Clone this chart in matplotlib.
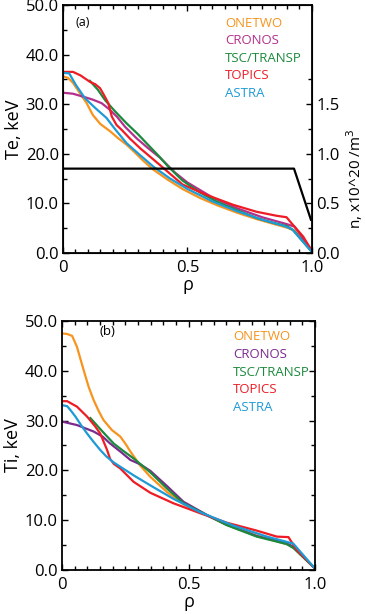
import numpy as np
import matplotlib
matplotlib.use("Agg")
import matplotlib.pyplot as plt
from matplotlib.ticker import MultipleLocator, FixedLocator

plt.rcParams["font.family"] = ["Open Sans", "DejaVu Sans"]

# ---------------- data (a): electron temperature ----------------
rho_a_onetwo = [0, 0.02, 0.04, 0.06, 0.08, 0.095, 0.12, 0.15, 0.19, 0.22, 0.256, 0.29, 0.32, 0.36, 0.42, 0.48, 0.55, 0.62, 0.70, 0.78, 0.85, 0.90, 0.93, 1.0]
te_onetwo = [35.6, 35.3, 34.3, 32.8, 31.3, 30.2, 27.8, 26.0, 24.5, 23.2, 21.8, 20.2, 18.7, 16.9, 14.8, 12.9, 11.1, 9.6, 8.1, 6.8, 5.8, 5.1, 4.5, 0.3]

rho_a_cronos = [0, 0.04, 0.088, 0.12, 0.155, 0.185, 0.216, 0.25, 0.296, 0.34, 0.39, 0.45, 0.5, 0.6, 0.7, 0.8, 0.9, 0.93, 1.0]
te_cronos = [32.3, 32.1, 31.4, 30.9, 30.2, 29.0, 27.5, 25.4, 23.1, 21.2, 19.2, 16.2, 14.2, 11.2, 9.0, 7.2, 5.8, 5.3, 0.5]

rho_a_tsc = [0.108, 0.14, 0.169, 0.21, 0.256, 0.30, 0.336, 0.38, 0.423, 0.48, 0.55, 0.62, 0.70, 0.78, 0.85, 0.90, 0.925, 1.0]
te_tsc = [34.7, 32.9, 30.8, 28.5, 26.1, 24.0, 22.1, 19.8, 17.4, 14.6, 12.2, 10.3, 8.6, 7.0, 6.0, 5.4, 4.6, 0.2]

rho_a_topics = [0, 0.04, 0.07, 0.108, 0.13, 0.149, 0.165, 0.182, 0.196, 0.215, 0.236, 0.27, 0.31, 0.35, 0.39, 0.48, 0.577, 0.684, 0.778, 0.858, 0.898, 0.918, 0.965, 1.0]
te_topics = [36.5, 36.5, 35.8, 34.5, 34.0, 33.2, 31.8, 30.2, 27.5, 25.8, 24.8, 23.0, 21.1, 19.4, 17.7, 13.8, 11.7, 9.7, 8.3, 7.5, 7.2, 6.0, 3.3, 0.4]

rho_a_astra = [0, 0.025, 0.05, 0.088, 0.13, 0.175, 0.21, 0.256, 0.31, 0.363, 0.43, 0.5, 0.6, 0.7, 0.8, 0.885, 0.92, 1.0]
te_astra = [36.3, 36.2, 34.0, 31.2, 29.2, 27.2, 24.9, 22.1, 19.7, 17.4, 15.0, 12.9, 10.4, 8.4, 6.7, 5.5, 4.8, 0.2]

rho_density = [0, 0.928, 0.996]
density = [0.85, 0.85, 0.335]

# ---------------- data (b): ion temperature ----------------
rho_b_onetwo = [0, 0.02, 0.04, 0.059, 0.085, 0.105, 0.125, 0.145, 0.164, 0.197, 0.23, 0.25, 0.27, 0.31, 0.349, 0.414, 0.48, 0.585, 0.65, 0.77, 0.888, 0.915, 1.0]
ti_onetwo = [47.5, 47.4, 47.0, 44.8, 40.2, 36.8, 34.1, 31.9, 30.1, 28.1, 26.8, 25.4, 23.8, 20.9, 18.7, 15.7, 13.2, 10.7, 9.2, 6.9, 5.2, 4.5, 0.3]

rho_b_cronos = [0, 0.059, 0.125, 0.16, 0.19, 0.23, 0.27, 0.31, 0.349, 0.414, 0.48, 0.585, 0.65, 0.77, 0.888, 0.915, 1.0]
ti_cronos = [29.8, 29.1, 27.8, 26.8, 25.4, 23.8, 22.1, 21.2, 19.9, 16.9, 13.7, 10.7, 9.1, 6.8, 5.4, 4.6, 0.3]

rho_b_tsc = [0.112, 0.16, 0.204, 0.245, 0.283, 0.349, 0.414, 0.48, 0.585, 0.651, 0.77, 0.888, 0.915, 1.0]
ti_tsc = [30.5, 27.8, 25.4, 23.8, 22.4, 19.6, 16.4, 13.4, 10.7, 9.0, 6.7, 5.2, 4.4, 0.3]

rho_b_topics = [0, 0.02, 0.059, 0.099, 0.13, 0.151, 0.165, 0.178, 0.19, 0.205, 0.23, 0.283, 0.349, 0.44, 0.546, 0.651, 0.77, 0.849, 0.895, 0.928, 1.0]
ti_topics = [33.9, 33.9, 32.8, 30.8, 28.9, 27.4, 25.7, 24.1, 22.3, 21.3, 20.4, 17.7, 15.5, 13.4, 11.4, 9.5, 7.9, 6.7, 6.6, 4.0, 0.3]

rho_b_astra = [0, 0.02, 0.035, 0.053, 0.075, 0.099, 0.125, 0.151, 0.175, 0.204, 0.283, 0.362, 0.44, 0.546, 0.678, 0.81, 0.914, 1.0]
ti_astra = [33.1, 32.9, 32.0, 30.8, 29.1, 27.4, 25.7, 24.1, 22.8, 21.6, 19.0, 16.6, 14.3, 11.6, 8.9, 6.7, 5.3, 0.3]

codes = ["ONETWO", "CRONOS", "TSC/TRANSP", "TOPICS", "ASTRA"]
colors_a = ["#F7941E", "#B3308C", "#1B8A3C", "#EE1C25", "#1E9AD6"]
colors_b = ["#F7941E", "#7B2A8E", "#1B8A3C", "#EE1C25", "#1E9AD6"]

fig = plt.figure(figsize=(3.65, 6.14), dpi=100)


def style_axis(ax, right=True):
    ax.set_xlim(0, 1.0)
    ax.set_ylim(0, 50)
    ax.set_xticks([0, 0.5, 1.0])
    ax.set_xticklabels(["0", "0.5", "1.0"])
    ax.xaxis.set_minor_locator(MultipleLocator(0.05))
    ax.set_yticks([0, 10, 20, 30, 40, 50])
    ax.set_yticklabels(["0.0", "10.0", "20.0", "30.0", "40.0", "50.0"])
    ax.yaxis.set_minor_locator(MultipleLocator(5))
    ax.tick_params(which="both", direction="in", top=True, right=right,
                   labelsize=12, pad=3, width=1.0)
    ax.tick_params(axis="x", pad=5)
    ax.tick_params(which="major", length=4)
    ax.tick_params(which="minor", length=3)
    for sp in ax.spines.values():
        sp.set_linewidth(1.3)
    ax.set_xlabel("ρ", fontsize=13, labelpad=0)


# ---------------- panel (a) ----------------
ax1 = fig.add_axes([0.1726, 0.588, 0.682, 0.404])
series_a = [(rho_a_onetwo, te_onetwo), (rho_a_cronos, te_cronos),
            (rho_a_tsc, te_tsc), (rho_a_topics, te_topics),
            (rho_a_astra, te_astra)]
for (r, t), c in zip(series_a, colors_a):
    ax1.plot(r, t, color=c, lw=1.6)
style_axis(ax1, right=False)
ax1.set_ylabel("Te, keV", fontsize=13, labelpad=2)
ax1.text(0.05, 0.93, "(a)", transform=ax1.transAxes, fontsize=9,
         ha="left", va="center")
for i, (name, c) in enumerate(zip(codes, colors_a)):
    ax1.text(0.65, 0.927 - i * 0.0706, name, color=c, fontsize=9.5,
             transform=ax1.transAxes, ha="left", va="center")

ax1r = ax1.twinx()
ax1r.plot(rho_density, density, color="black", lw=1.6)
ax1r.set_ylim(0, 2.5)
ax1r.set_yticks([0, 0.5, 1.0, 1.5])
ax1r.set_yticklabels(["0.0", "0.5", "1.0", "1.5"])
ax1r.yaxis.set_minor_locator(FixedLocator([0.25, 0.75, 1.25, 1.75]))
ax1r.tick_params(which="both", direction="in", labelsize=12, pad=3, width=1.0)
ax1r.tick_params(which="major", length=4)
ax1r.tick_params(which="minor", length=3)
ax1r.set_ylabel("n, x10^20 /m$^3$", fontsize=11)
ax1r.yaxis.set_label_coords(1.13, 0.30)

# ---------------- panel (b) ----------------
ax2 = fig.add_axes([0.170, 0.0717, 0.693, 0.4055])
series_b = [(rho_b_onetwo, ti_onetwo), (rho_b_cronos, ti_cronos),
            (rho_b_tsc, ti_tsc), (rho_b_topics, ti_topics),
            (rho_b_astra, ti_astra)]
for (r, t), c in zip(series_b, colors_b):
    ax2.plot(r, t, color=c, lw=1.6)
style_axis(ax2, right=True)
ax2.set_ylabel("Ti, keV", fontsize=13, labelpad=2)
ax2.text(0.18, 0.956, "(b)", transform=ax2.transAxes, fontsize=9.5,
         ha="center", va="center")
for i, (name, c) in enumerate(zip(codes, colors_b)):
    ax2.text(0.676, 0.936 - i * 0.0707, name, color=c, fontsize=9.5,
             transform=ax2.transAxes, ha="left", va="center")

fig.savefig("out.png", dpi=100, facecolor="white")
plt.close(fig)
